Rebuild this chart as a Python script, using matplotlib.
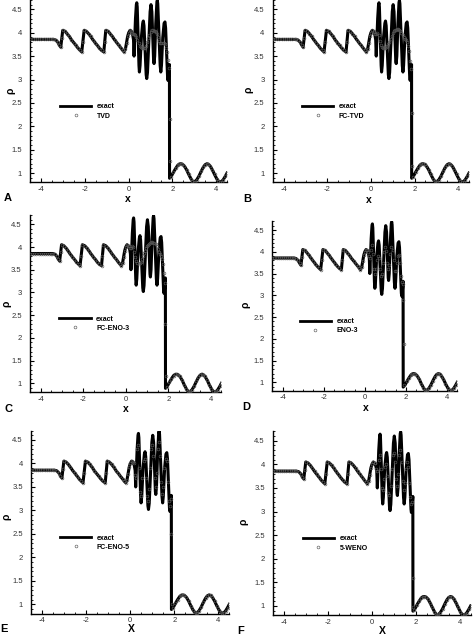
import matplotlib
matplotlib.use('Agg')
import matplotlib.pyplot as plt
from matplotlib.lines import Line2D
from matplotlib.ticker import MultipleLocator, FormatStrFormatter

plt.rcParams['font.family'] = ['Liberation Sans', 'DejaVu Sans']
plt.rcParams['axes.unicode_minus'] = False

W, H = 474, 635

# exact solution
exact_x = [-4.5, -4.4, -4.3, -4.2, -4.1, -4.0, -3.9, -3.8, -3.7, -3.6, -3.5,
           -3.45, -3.35, -3.25, -3.18, -3.11, -3.06, -3.02, -2.92, -2.82, -2.72,
           -2.62, -2.52, -2.42, -2.32, -2.22, -2.15, -2.10, -2.04, -1.94, -1.84,
           -1.74, -1.64, -1.54, -1.44, -1.34, -1.24, -1.14, -1.10, -1.05, -0.95,
           -0.85, -0.75, -0.65, -0.55, -0.45, -0.35, -0.27, -0.21, -0.15, -0.10,
           -0.05, 0.0, 0.06, 0.12, 0.18, 0.22, 0.245, 0.27, 0.31, 0.35, 0.37,
           0.39, 0.43, 0.47, 0.49, 0.52, 0.58, 0.64, 0.67, 0.70, 0.75, 0.80,
           0.826, 0.86, 0.92, 0.98, 1.02, 1.06, 1.11, 1.14, 1.16, 1.19, 1.24,
           1.29, 1.31, 1.33, 1.38, 1.44, 1.47, 1.50, 1.56, 1.62, 1.66, 1.69,
           1.74, 1.78, 1.80, 1.83, 1.865, 1.87, 1.95, 2.05, 2.15, 2.25, 2.32,
           2.39, 2.46, 2.55, 2.65, 2.75, 2.85, 2.92, 2.97, 3.03, 3.12, 3.22,
           3.32, 3.42, 3.50, 3.58, 3.65, 3.73, 3.83, 3.93, 4.03, 4.10, 4.18,
           4.25, 4.33, 4.42, 4.50]
exact_rho = [3.857, 3.857, 3.857, 3.857, 3.857, 3.857, 3.857, 3.857, 3.857, 3.857, 3.857,
             3.857, 3.845, 3.80, 3.74, 3.69, 3.88, 4.05, 4.03, 3.98, 3.92,
             3.85, 3.79, 3.73, 3.67, 3.62, 3.59, 3.80, 4.05, 4.03, 3.98,
             3.92, 3.85, 3.79, 3.73, 3.67, 3.62, 3.59, 3.80, 4.05, 4.03,
             3.98, 3.92, 3.85, 3.79, 3.73, 3.67, 3.62, 3.59, 3.65, 3.78,
             3.92, 4.00, 4.05, 4.03, 3.96, 3.85, 3.50, 3.80, 4.30, 4.60, 4.64,
             4.55, 3.90, 3.30, 3.16, 3.30, 3.90, 4.20, 4.25, 4.15, 3.60, 3.10,
             3.02, 3.15, 3.80, 4.45, 4.60, 4.45, 3.75, 3.40, 3.34, 3.50, 4.20,
             4.65, 4.69, 4.62, 4.00, 3.30, 3.16, 3.30, 3.90, 4.20, 4.23, 4.10,
             3.50, 3.05, 2.98, 3.10, 3.32, 0.89, 0.93, 1.02, 1.10, 1.17, 1.195,
             1.20, 1.19, 1.15, 1.07, 0.97, 0.88, 0.83, 0.81, 0.82, 0.86, 0.94,
             1.04, 1.13, 1.18, 1.20, 1.19, 1.15, 1.07, 0.97, 0.88, 0.83, 0.81,
             0.82, 0.86, 0.93, 1.00]

# numerical solutions in the oscillatory / shock region
osc_x = [0.15, 0.20, 0.25, 0.30, 0.35, 0.40, 0.45, 0.50, 0.55, 0.60, 0.65, 0.70,
         0.75, 0.80, 0.85, 0.90, 0.95, 1.00, 1.05, 1.10, 1.15, 1.20, 1.25, 1.30,
         1.35, 1.40, 1.45, 1.50, 1.55, 1.60, 1.65, 1.70, 1.75, 1.80,
         1.84, 1.87, 1.89, 1.92]
tvd = [4.0, 3.98, 3.97, 3.95, 3.9, 3.84, 3.77, 3.72, 3.69, 3.68, 3.67, 3.67,
       3.68, 3.72, 3.8, 3.88, 3.96, 4.02, 4.05, 4.05, 4.04, 4.03, 4.02, 3.98,
       3.9, 3.83, 3.78, 3.77, 3.78, 3.78, 3.75, 3.68, 3.58, 3.42,
       3.25, 2.15, 1.25, 0.92]
fc_tvd = [4.02, 3.98, 3.97, 4.0, 3.95, 3.82, 3.74, 3.7, 3.68, 3.68, 3.68, 3.7,
          3.72, 3.75, 3.8, 3.86, 3.93, 3.99, 4.03, 4.05, 4.06, 4.07, 4.07, 4.06,
          4.04, 4.0, 3.95, 3.9, 3.86, 3.84, 3.8, 3.72, 3.6, 3.4,
          3.22, 2.28, 1.15, 0.92]
fc_eno3 = [4.03, 3.98, 3.98, 4.02, 4.0, 3.9, 3.78, 3.7, 3.65, 3.63, 3.64, 3.68,
           3.74, 3.8, 3.86, 3.92, 3.97, 4.02, 4.05, 4.07, 4.09, 4.1, 4.1, 4.09,
           4.08, 4.06, 4.02, 3.96, 3.9, 3.85, 3.8, 3.74, 3.62, 3.42,
           3.2, 2.3, 1.15, 0.92]
eno3 = [4.0, 3.9, 3.85, 4.05, 4.15, 3.95, 3.6, 3.5, 3.6, 3.8, 3.9, 3.85,
        3.6, 3.45, 3.5, 3.75, 4.0, 4.1, 4.02, 3.75, 3.6, 3.7, 3.95, 4.1,
        4.05, 3.8, 3.55, 3.55, 3.75, 3.9, 3.92, 3.75, 3.45, 3.3,
        3.25, 2.9, 1.87, 0.93]
fc_eno5 = [4.02, 3.75, 3.7, 4.3, 4.4, 3.9, 3.4, 3.3, 3.7, 4.05, 4.1, 3.7,
           3.3, 3.2, 3.45, 3.9, 4.3, 4.4, 4.15, 3.7, 3.5, 3.8, 4.3, 4.45,
           4.15, 3.6, 3.35, 3.5, 3.9, 4.1, 4.05, 3.6, 3.2, 3.1,
           3.25, 2.5, 1.0, 0.92]
weno5 = [4.03, 3.9, 3.85, 4.1, 4.2, 3.9, 3.5, 3.45, 3.7, 3.95, 4.0, 3.75,
         3.4, 3.35, 3.55, 3.9, 4.2, 4.25, 4.05, 3.7, 3.55, 3.8, 4.2, 4.3,
         4.05, 3.65, 3.45, 3.6, 3.9, 4.05, 3.95, 3.6, 3.3, 3.15,
         3.2, 1.6, 0.98, 0.92]

schemes = ['TVD', 'FC-TVD', 'FC-ENO-3', 'ENO-3', 'FC-ENO-5', '5-WENO']
scheme_rho = [tvd, fc_tvd, fc_eno3, eno3, fc_eno5, weno5]
letters = ['A', 'B', 'C', 'D', 'E', 'F']
xlabels = ['x', 'x', 'x', 'x', 'X', 'X']

# panel geometry in pixels: left, top, width, height
panels = [(30.4, -0.05, 196.6, 182.5), (272.8, -0.05, 196.2, 182.5),
          (30.1, 215.2, 191.3, 177.2), (272.4, 221.3, 184.8, 169.7),
          (31.3, 430.6, 198.0, 183.1), (273.3, 431.3, 197.3, 184.1)]
legend_pos = [(60, 103.5), (302, 103.5), (59.3, 315.8), (299.7, 318.2),
              (60, 534.8), (302.7, 535.5)]
xlabel_pos = [(128, 199), (368.7, 200), (126, 409.3), (365.3, 407.7),
              (131.7, 629), (382, 630.5)]
ylabel_pos = [(10, 91), (248.7, 90), (6.7, 304.3), (245.3, 305),
              (6, 516.7), (243.7, 521.7)]
letter_pos = [(7.5, 198.5), (247, 199), (8.3, 409), (246.3, 406.7),
              (3.5, 628.5), (241, 631)]

fig = plt.figure(figsize=(W / 100, H / 100), dpi=100)

def fx(px):
    return px / W

def fy(py):
    return 1 - py / H

# numerical points outside the oscillatory zone sit on the exact curve
smooth_x = [x for x in exact_x if x < 0.15 or x > 1.95]
smooth_rho = [r for x, r in zip(exact_x, exact_rho) if x < 0.15 or x > 1.95]

mk = dict(marker='o', ms=2.0, mfc='none', mec='#5a5a5a', mew=0.45, ls='none')

for i in range(6):
    l, t, w, h = panels[i]
    ax = fig.add_axes([fx(l), fy(t + h), w / W, h / H])
    ax.plot(exact_x, exact_rho, color='black', lw=2.2, zorder=2)
    ax.plot(smooth_x + osc_x, smooth_rho + scheme_rho[i], zorder=3, **mk)
    ax.set_xlim(-4.5, 4.5)
    ax.set_ylim(0.8, 4.7)
    ax.spines['top'].set_visible(False)
    ax.spines['right'].set_visible(False)
    for s in ('left', 'bottom'):
        ax.spines[s].set_linewidth(1.0)
    ax.xaxis.set_major_locator(MultipleLocator(2))
    ax.xaxis.set_minor_locator(MultipleLocator(0.5))
    ax.yaxis.set_major_locator(MultipleLocator(0.5))
    ax.yaxis.set_minor_locator(MultipleLocator(0.1))
    ax.yaxis.set_major_formatter(FormatStrFormatter('%g'))
    ax.xaxis.set_major_formatter(FormatStrFormatter('%g'))
    ax.tick_params(which='both', direction='in', top=False, right=False,
                   labelsize=5.5, labelcolor='#333333')
    ax.tick_params(which='major', length=3, width=0.8)
    ax.tick_params(which='minor', length=1.5, width=0.6)
    ax.tick_params(axis='x', pad=2.5)
    ax.tick_params(axis='y', pad=6)

    ax.set_xlabel(xlabels[i], fontsize=7.5, fontweight='bold', va='center')
    ax.xaxis.set_label_coords(fx(xlabel_pos[i][0]), fy(xlabel_pos[i][1]),
                              transform=fig.transFigure)
    ax.set_ylabel('ρ', fontsize=7.5, fontweight='bold', va='center')
    ax.yaxis.set_label_coords(fx(ylabel_pos[i][0]), fy(ylabel_pos[i][1]),
                              transform=fig.transFigure)

    handles = [Line2D([], [], color='black', lw=2.0),
               Line2D([], [], **mk)]
    ax.legend(handles, ['exact', schemes[i]], loc='upper left',
              bbox_to_anchor=(fx(legend_pos[i][0]), fy(legend_pos[i][1])),
              bbox_transform=fig.transFigure, frameon=False, borderpad=0,
              borderaxespad=0, handlelength=4.5, handletextpad=0.8,
              labelspacing=0.3, prop={'size': 5, 'weight': 'bold'})

    fig.text(fx(letter_pos[i][0]), fy(letter_pos[i][1]), letters[i],
             fontsize=8, fontweight='bold', ha='center', va='center')

fig.savefig('out.png', dpi=100)
